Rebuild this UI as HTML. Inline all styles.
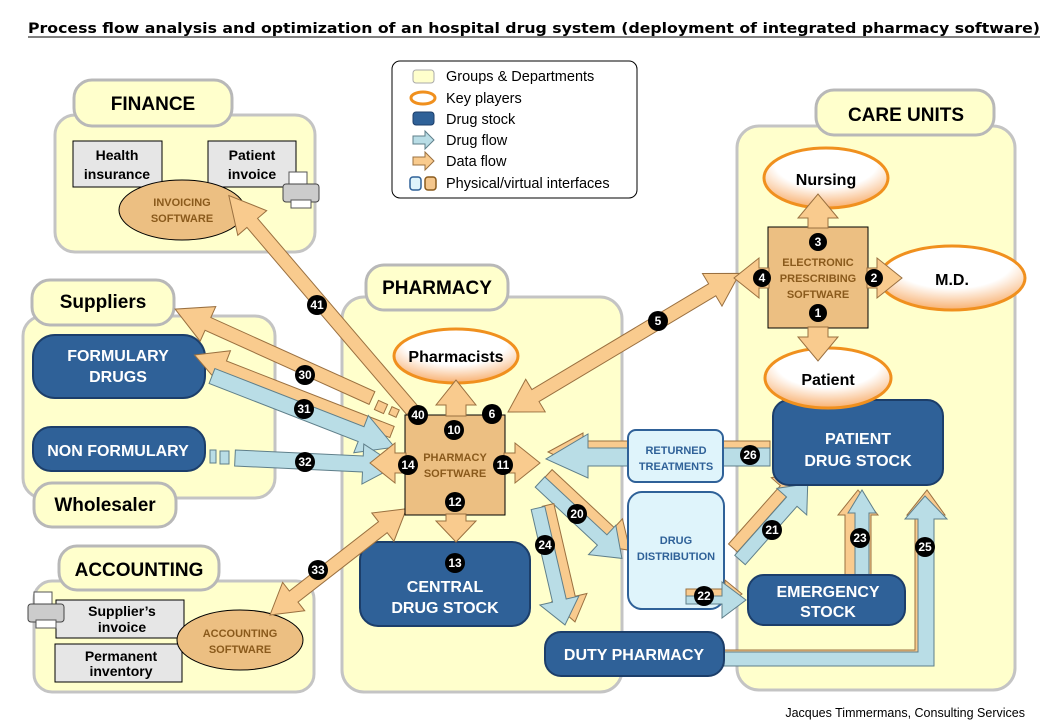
<!DOCTYPE html>
<html><head><meta charset="utf-8"><style>
body{margin:0;background:#fff;}
svg{display:block;font-family:"Liberation Sans",Arial,sans-serif;}
.t{fill:#f9cb8e;stroke:#9a7040;stroke-width:1}
.b{fill:#b9dde6;stroke:#5f7f8a;stroke-width:1}
.n circle{fill:#000}
.n text{fill:#fff;font-weight:bold;font-size:12px;text-anchor:middle}
.grp{fill:#ffffcc;stroke:#c4c4c4;stroke-width:3}
.pill{fill:#ffffcc;stroke:#b8b8b8;stroke-width:3}
.lbl{font-weight:bold;font-size:19px;text-anchor:middle;fill:#000}
.stk{fill:#2f6198;stroke:#1c3e6a;stroke-width:2}
.stt{fill:#fff;font-weight:bold;font-size:16px;text-anchor:middle}
.kp{fill:url(#kg);stroke:#f0901e;stroke-width:3}
.kpt{font-weight:bold;font-size:16px;text-anchor:middle}
.gb{fill:#e6e6e6;stroke:#000;stroke-width:1}
.gbt{font-weight:bold;font-size:14px;text-anchor:middle}
.sw{fill:#ecbf82;stroke:#000;stroke-width:1}
.swt{fill:#8a5a1c;font-weight:bold;font-size:11px;text-anchor:middle}
.lb{fill:#dff4fb;stroke:#2f6198;stroke-width:2}
.lbt{fill:#2f6198;font-weight:bold;font-size:11px;text-anchor:middle}
</style></head><body>
<svg width="1052" height="728" viewBox="0 0 1052 728">
<defs>
<radialGradient id="kg" cx="50%" cy="25%" r="75%"><stop offset="0" stop-color="#fff"/><stop offset="0.55" stop-color="#fff"/><stop offset="1" stop-color="#f8b070"/></radialGradient>
</defs>
<text x="28" y="33" font-size="14.5" font-weight="bold" font-family="DejaVu Sans, sans-serif" textLength="1012" lengthAdjust="spacingAndGlyphs">Process flow analysis and optimization of an hospital drug system (deployment of integrated pharmacy software)</text>
<line x1="28" y1="37" x2="1040" y2="37" stroke="#000" stroke-width="1"/>

<!-- legend -->
<rect x="392" y="61" width="245" height="137" rx="8" fill="#fff" stroke="#000"/>
<rect x="413" y="70" width="21" height="13" rx="3" fill="#ffffcc" stroke="#aaa"/>
<ellipse cx="423" cy="98" rx="12" ry="6" fill="#fff" stroke="#f0901e" stroke-width="3"/>
<rect x="413" y="112" width="21" height="13" rx="3" fill="#2f6198" stroke="#1c3e6a"/>
<polygon class="b" points="413,136 425,136 425,131 434,140 425,149 425,144 413,144"/>
<polygon class="t" points="413,157 425,157 425,152 434,161 425,170 425,165 413,165"/>
<rect x="410" y="177" width="11" height="13" rx="3" fill="#dff4fb" stroke="#2f6198" stroke-width="1.5"/>
<rect x="425" y="177" width="11" height="13" rx="3" fill="#f4c68c" stroke="#8a5a1c" stroke-width="1.5"/>
<g font-size="14.5"><text x="446" y="81">Groups &amp; Departments</text><text x="446" y="103">Key players</text><text x="446" y="124">Drug stock</text><text x="446" y="145">Drug flow</text><text x="446" y="166">Data flow</text><text x="446" y="188">Physical/virtual interfaces</text></g>

<!-- FINANCE -->
<rect class="grp" x="55" y="115" width="260" height="137" rx="20"/>
<rect class="pill" x="74" y="80" width="158" height="46" rx="18"/>
<text class="lbl" x="153" y="110">FINANCE</text>
<rect class="gb" x="73" y="141" width="89" height="46"/>
<text class="gbt" x="117" y="160">Health</text><text class="gbt" x="117" y="179">insurance</text>
<rect class="gb" x="208" y="141" width="88" height="46"/>
<text class="gbt" x="252" y="160">Patient</text><text class="gbt" x="252" y="179">invoice</text>
<ellipse class="sw" cx="182" cy="210" rx="63" ry="30"/>
<text class="swt" x="182" y="206">INVOICING</text><text class="swt" x="182" y="222">SOFTWARE</text>
<g transform="translate(283,172)"><rect x="6" y="0" width="18" height="14" fill="#fff" stroke="#555"/><rect x="0" y="12" width="36" height="18" rx="3" fill="#ccc" stroke="#444"/><rect x="8" y="28" width="20" height="8" fill="#fff" stroke="#555"/></g>

<!-- SUPPLIERS -->
<rect class="grp" x="23" y="316" width="252" height="182" rx="20"/>
<rect class="pill" x="32" y="280" width="142" height="45" rx="18"/>
<text class="lbl" x="103" y="308" font-size="17">Suppliers</text>
<rect class="stk" x="33" y="335" width="172" height="63" rx="22"/>
<text class="stt" x="118" y="361">FORMULARY</text><text class="stt" x="118" y="382">DRUGS</text>
<rect class="stk" x="33" y="427" width="172" height="44" rx="18"/>
<text class="stt" x="118" y="456" font-size="15">NON  FORMULARY</text>
<rect class="pill" x="34" y="483" width="142" height="44" rx="18"/>
<text class="lbl" x="105" y="511" font-size="17">Wholesaler</text>

<!-- ACCOUNTING -->
<rect class="grp" x="34" y="581" width="280" height="111" rx="18"/>
<rect class="pill" x="59" y="546" width="160" height="44" rx="18"/>
<text class="lbl" x="139" y="576">ACCOUNTING</text>
<rect class="gb" x="56" y="600" width="128" height="38"/>
<text class="gbt" x="122" y="616">Supplier’s</text><text class="gbt" x="122" y="632">invoice</text>
<rect class="gb" x="55" y="644" width="127" height="38"/>
<text class="gbt" x="121" y="661">Permanent</text><text class="gbt" x="121" y="676">inventory</text>
<ellipse class="sw" cx="240" cy="640" rx="63" ry="30"/>
<text class="swt" x="240" y="637">ACCOUNTING</text><text class="swt" x="240" y="653">SOFTWARE</text>
<g transform="translate(28,592)"><rect x="6" y="0" width="18" height="14" fill="#fff" stroke="#555"/><rect x="0" y="12" width="36" height="18" rx="3" fill="#ccc" stroke="#444"/><rect x="8" y="28" width="20" height="8" fill="#fff" stroke="#555"/></g>

<!-- PHARMACY -->
<rect class="grp" x="342" y="297" width="280" height="395" rx="22"/>
<rect class="pill" x="366" y="265" width="142" height="45" rx="18"/>
<text class="lbl" x="437" y="294">PHARMACY</text>
<ellipse class="kp" cx="456" cy="356" rx="62" ry="27"/>
<text class="kpt" x="456" y="362">Pharmacists</text>
<rect class="stk" x="360" y="542" width="170" height="84" rx="18"/>
<text class="stt" x="445" y="592">CENTRAL</text><text class="stt" x="445" y="613">DRUG STOCK</text>

<!-- CARE UNITS -->
<rect class="grp" x="737" y="126" width="278" height="564" rx="22"/>
<rect class="pill" x="816" y="90" width="178" height="45" rx="18"/>
<text class="lbl" x="906" y="121">CARE UNITS</text>
<ellipse class="kp" cx="826" cy="178" rx="62" ry="30"/>
<text class="kpt" x="826" y="185">Nursing</text>
<ellipse class="kp" cx="952" cy="278" rx="73" ry="32"/>
<text class="kpt" x="952" y="285">M.D.</text>

<!-- ARROWS -->
<g transform="translate(412,410) rotate(229.5)"><polygon class="t" points="0,-7 246,-7 246,-19 282,0 246,19 246,7 0,7"/></g>
<g transform="translate(372,398) rotate(204.3)"><polygon class="t" points="0,-7 180,-7 180,-19 216,0 180,19 180,7 0,7"/></g>
<rect class="t" x="376" y="402" width="10" height="10" transform="rotate(24 381 407)"/>
<rect class="t" x="390" y="408" width="8" height="8" transform="rotate(24 394 412)"/>
<g transform="translate(392,432) rotate(201.3)"><polygon class="t" points="0,-6 180,-6 180,-17 212,0 180,17 180,6 0,6"/></g>
<g transform="translate(212,376) rotate(21.3)"><polygon class="b" points="0,-8 160,-8 160,-20 196,0 160,20 160,8 0,8"/></g>
<rect class="b" x="210" y="450" width="6" height="13"/><rect class="b" x="220" y="451" width="9" height="13"/>
<g transform="translate(235,458) rotate(2.7)"><polygon class="b" points="0,-8 128,-8 128,-20 162,0 128,20 128,8 0,8"/></g>
<g transform="translate(270,615) rotate(-37.9)"><polygon class="t" points="0,0 30,-18 30,-7 143,-7 143,-18 173,0 143,18 143,7 30,7 30,18"/></g>
<g transform="translate(508,412) rotate(-30.9)"><polygon class="t" points="0,0 32,-19 32,-7 238,-7 238,-19 270,0 238,19 238,7 32,7 32,19"/></g>
<polygon class="t" points="770,441 583,441 583,433 548,452 583,469 583,459 770,459"/>
<polygon class="b" points="770,448 588,448 588,434 546,459 588,478 588,466 770,466"/>
<g transform="translate(548,474) rotate(43)"><polygon class="t" points="0,-6 85,-6 85,-18 112,0 85,18 85,6 0,6"/></g>
<g transform="translate(540,482) rotate(43)"><polygon class="b" points="0,-7 85,-7 85,-20 112,0 85,20 85,7 0,7"/></g>
<g transform="translate(548,505) rotate(77)"><polygon class="t" points="0,-6 95,-6 95,-18 120,0 95,18 95,6 0,6"/></g>
<g transform="translate(538,508) rotate(77)"><polygon class="b" points="0,-7 95,-7 95,-20 120,0 95,20 95,7 0,7"/></g>
<g transform="translate(733,548) rotate(-48.4)"><polygon class="t" points="0,-6 78,-6 78,-18 102,0 78,18 78,6 0,6"/></g>
<g transform="translate(740,560) rotate(-48.4)"><polygon class="b" points="0,-7 78,-7 78,-20 102,0 78,20 78,7 0,7"/></g>
<g transform="translate(858,575) rotate(-90)"><polygon class="t" points="0,-13 60,-13 60,-20 85,0 60,20 60,13 0,13"/></g>
<g transform="translate(862,575) rotate(-90)"><polygon class="b" points="0,-7 62,-7 62,-14 85,0 62,14 62,7 0,7"/></g>
<polygon class="t" points="724,650 915,650 915,515 907,515 927,490 945,515 930,515 930,662 724,662"/>
<polygon class="b" points="724,648 918,648 918,515 905,515 925,492 947,515 934,515 934,662 724,662" transform="translate(0,4)"/>

<!-- boxes over arrows -->
<rect class="lb" x="628" y="430" width="95" height="52" rx="8"/>
<text class="lbt" x="676" y="454">RETURNED</text><text class="lbt" x="676" y="470">TREATMENTS</text>
<rect class="lb" x="628" y="492" width="96" height="117" rx="14"/>
<text class="lbt" x="676" y="544">DRUG</text><text class="lbt" x="676" y="560">DISTRIBUTION</text>
<polygon class="t" points="686,589 725,589 725,580 742,594 725,606 725,598 686,598"/>
<polygon class="b" points="686,596 722,596 722,582 746,600 722,618 722,604 686,604"/>
<rect class="stk" x="545" y="632" width="179" height="44" rx="16"/>
<text class="stt" x="634" y="660">DUTY PHARMACY</text>
<rect class="stk" x="773" y="400" width="170" height="85" rx="16"/>
<text class="stt" x="858" y="444">PATIENT</text><text class="stt" x="858" y="466">DRUG STOCK</text>
<rect class="stk" x="748" y="575" width="157" height="50" rx="16"/>
<text class="stt" x="828" y="597">EMERGENCY</text><text class="stt" x="828" y="617">STOCK</text>

<!-- pharmacy software cross -->
<rect class="sw" x="405" y="415" width="100" height="100"/>
<polygon class="t" points="446,416 446,405 436,405 456,380 476,405 466,405 466,416"/>
<polygon class="t" points="504,453 515,453 515,443 540,463 515,483 515,473 504,473"/>
<polygon class="t" points="406,453 395,453 395,443 370,463 395,483 395,473 406,473"/>
<polygon class="t" points="446,514 446,521 436,521 456,542 476,521 466,521 466,514"/>
<text class="swt" x="455" y="461" font-size="10.5">PHARMACY</text><text class="swt" x="455" y="477" font-size="10.5">SOFTWARE</text>
<!-- e-prescribing -->
<ellipse class="kp" cx="828" cy="378" rx="63" ry="30"/>
<text class="kpt" x="828" y="385">Patient</text>
<rect class="sw" x="768" y="227" width="100" height="101"/>
<polygon class="t" points="808,228 808,218 798,218 818,194 838,218 828,218 828,228"/>
<polygon class="t" points="867,268 877,268 877,258 902,278 877,298 877,288 867,288"/>
<polygon class="t" points="769,268 759,268 759,258 734,278 759,298 759,288 769,288"/>
<polygon class="t" points="808,327 808,337 798,337 818,361 838,337 828,337 828,327"/>
<text class="swt" x="818" y="266">ELECTRONIC</text><text class="swt" x="818" y="282">PRESCRIBING</text><text class="swt" x="818" y="298">SOFTWARE</text>

<g class="n">
<circle cx="317" cy="305" r="10"/><text x="317" y="309">41</text>
<circle cx="305" cy="375" r="10"/><text x="305" y="379">30</text>
<circle cx="304" cy="409" r="10"/><text x="304" y="413">31</text>
<circle cx="305" cy="462" r="10"/><text x="305" y="466">32</text>
<circle cx="318" cy="570" r="10"/><text x="318" y="574">33</text>
<circle cx="418" cy="415" r="10"/><text x="418" y="419">40</text>
<circle cx="454" cy="430" r="10"/><text x="454" y="434">10</text>
<circle cx="492" cy="414" r="10"/><text x="492" y="418">6</text>
<circle cx="408" cy="465" r="10"/><text x="408" y="469">14</text>
<circle cx="503" cy="465" r="10"/><text x="503" y="469">11</text>
<circle cx="455" cy="502" r="10"/><text x="455" y="506">12</text>
<circle cx="455" cy="563" r="10"/><text x="455" y="567">13</text>
<circle cx="658" cy="321" r="10"/><text x="658" y="325">5</text>
<circle cx="750" cy="455" r="10"/><text x="750" y="459">26</text>
<circle cx="577" cy="514" r="10"/><text x="577" y="518">20</text>
<circle cx="545" cy="545" r="10"/><text x="545" y="549">24</text>
<circle cx="772" cy="530" r="10"/><text x="772" y="534">21</text>
<circle cx="704" cy="596" r="10"/><text x="704" y="600">22</text>
<circle cx="860" cy="538" r="10"/><text x="860" y="542">23</text>
<circle cx="925" cy="547" r="10"/><text x="925" y="551">25</text>
<circle cx="818" cy="242" r="9"/><text x="818" y="246">3</text>
<circle cx="762" cy="278" r="9"/><text x="762" y="282">4</text>
<circle cx="874" cy="278" r="9"/><text x="874" y="282">2</text>
<circle cx="818" cy="313" r="9"/><text x="818" y="317">1</text>
</g>
<text x="1025" y="717" font-size="12.5" text-anchor="end">Jacques Timmermans, Consulting Services</text>
</svg>
</body></html>
